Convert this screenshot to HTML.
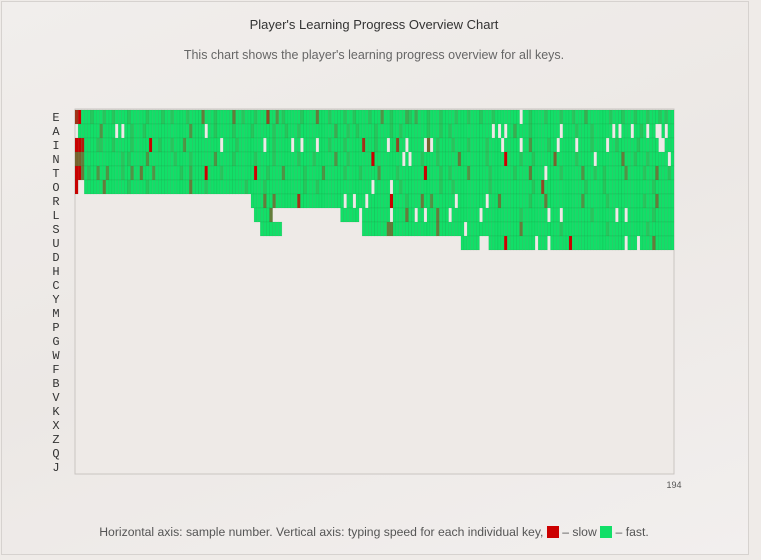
<!DOCTYPE html>
<html><head><meta charset="utf-8"><style>
html,body{margin:0;padding:0;width:761px;height:560px;overflow:hidden;background:#efebe8;font-family:"Liberation Sans",sans-serif}
#frame{position:absolute;left:1px;top:1px;width:746px;height:552px;border:1px solid #d6d2cf;background:linear-gradient(160deg,#f1eeec 0%,#ece8e5 50%,#f2efee 100%)}
.t{position:absolute;left:0;width:748px;text-align:center}
</style></head><body>
<div id="frame"></div>
<div class="t" style="top:17px;font-size:13px;color:#333">Player's Learning Progress Overview Chart</div>
<div class="t" style="top:48px;font-size:12.5px;color:#666">This chart shows the player's learning progress overview for all keys.</div>
<svg id="chart" width="761" height="560" style="position:absolute;left:0;top:0"></svg>
<div class="t" style="top:525px;font-size:12.2px;color:#555">Horizontal axis: sample number. Vertical axis: typing speed for each individual key, <span style="display:inline-block;width:12px;height:12px;background:#cc0000;vertical-align:-2px"></span> – slow <span style="display:inline-block;width:12px;height:12px;background:#12df68;vertical-align:-2px"></span> – fast.</div>
<script>
const keys=["E","A","I","N","T","O","R","L","S","U","D","H","C","Y","M","P","G","W","F","B","V","K","X","Z","Q","J"];
const sampleCount=194;
// speed levels 0 (slow) .. 9 (fast), '.' = no sample
const rowE="2099989998 9989999899 9998999989 9899998999 9599989999 9599899989 9939969899 9998999959 9989999899 8999989996 9989999789 7999899989 9998999899 9899989999 9999.99899 9989999899 9899979999 9998999899 9899989998 9899";
const rowA=".999999969 999.9.9989 9989999999 9999999699 99.9989999 9899999899 9999899989 9989999999 9999799989 9899999899 9989989999 9999899989 9899999999 99999.9.9. 9979999899 9999999.99 9989999899 9999.9.999 .9989.99.. 9.99";
const rowI="0019999889 9989999989 9999099899 9899969999 9999999.99 9989999999 9.99899999 .99.9999.9 9989999899 9992999899 9.99399.99 999.4.9899 9989999899 99989999.9 9999.99699 999899.999 99.9999899 99.9989999 998999999. .999";
const rowN="4459999999 9999989899 9996999999 9989999899 9999969999 9899999989 9999899999 9989999899 9999699989 9999990999 999999.9.9 9989999899 9999599999 9998999990 9999899989 9999949999 99899999.9 9999999599 9899989999 99.9";
const rowT="0059899699 6999989969 9599969999 9999899799 9909999899 9999999909 9989999699 9999899999 6999999899 9989999969 9999899999 9990999989 9899999699 9999899999 9989999599 99.9999899 9999699989 9899999969 9999899959 9989";
const rowO="0..9999995 9999999899 9998999999 9999999599 9989999999 9999989999 9899999999 9999899989 9999999999 999999.999 99.9989999 9999999989 9989999999 9999899999 9999999989 9399999999 9999989999 9899999999 9999999899 9999";
const rowR=".......... .......... .......... .......... .......... .......999 9599599999 9929999999 9999999.99 .999.99999 9909999899 9959969999 999.999999 999.999599 9999999899 9959999999 9999699999 9989999999 9999899959 9999";
const rowL=".......... .......... .......... .......... .......... ........99 9995...... .......... ......9999 99.9999999 99.9999599 .99.999599 9.99999999 9.99999999 9999899999 999.999.99 9999999899 99999.99.9 9999999899 9999";
const rowS=".......... .......... .......... .......... .......... .......... 9999999... .......... .......... ...9999999 9559999999 9999999599 999999.999 9999999999 9999599999 9999999899 9999999999 9989999999 9999989999 9999";
const rowU=".......... .......... .......... .......... .......... .......... .......... .......... .......... .......... .......... .......... .....99999 9...999990 999999999. 999.999999 0999999999 99999999.9 99.9999599 9999";
const rows=[rowE,rowA,rowI,rowN,rowT,rowO,rowR,rowL,rowS,rowU];

const svg=document.getElementById('chart');
const NS='http://www.w3.org/2000/svg';
const X0=75,X1=674,Y0=110,Y1=474;
const colW=(X1-X0)/sampleCount, rowH=(Y1-Y0)/keys.length;
function xScale(i){return X0+i*colW;}
function yScale(k){return Y0+k*rowH;}
function color(v){const t=v/9;const r=Math.round(204+(18-204)*t),g=Math.round(0+(223-0)*t),b=Math.round(0+(104-0)*t);return `rgb(${r},${g},${b})`;}
function mk(tag,a){const e=document.createElementNS(NS,tag);for(const k in a)e.setAttribute(k,a[k]);svg.appendChild(e);return e;}

const bg=mk('rect',{x:X0,y:Y0-1,width:X1-X0,height:Y1-Y0+1,fill:'#eeeae7',stroke:'#c9c5c2','stroke-width':1});



rows.forEach((s,r)=>{
  const vals=s.replace(/ /g,'');
  for(let i=0;i<vals.length&&i<sampleCount;i++){
    const c=vals[i]; if(c==='.')continue;
    const v=+c;
    const cell=mk('rect',{x:xScale(i).toFixed(2),y:yScale(r).toFixed(2),width:colW.toFixed(2),height:rowH.toFixed(2),fill:color(v),stroke:'rgba(40,90,40,0.18)','stroke-width':0.5});
    
    
  }
});

keys.forEach((k,r)=>{
  const t=mk('text',{x:56,y:(yScale(r)+rowH/2+4).toFixed(1),'text-anchor':'middle','font-family':'Liberation Mono, monospace','font-size':12,fill:'#333'});
  t.textContent=k;
  
  
});
const xl=mk('text',{x:674,y:488,'text-anchor':'middle','font-family':'Liberation Sans, sans-serif','font-size':9,fill:'#555'});
xl.textContent=String(sampleCount);


</script>
</body></html>
